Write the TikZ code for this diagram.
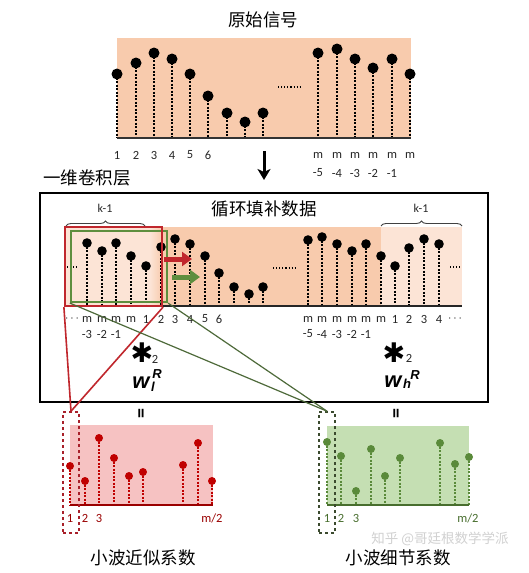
\documentclass[tikz,border=0pt]{standalone}
\usepackage{fontspec}
\setmainfont{Carlito}
\newfontfamily\cjk{Noto Sans CJK SC}
\newfontfamily\djv{DejaVu Sans}
\newfontfamily\arl{Liberation Sans}
\usetikzlibrary{arrows.meta,decorations.pathreplacing,shapes.geometric}
\definecolor{peach}{HTML}{F8CBAD}
\definecolor{peachlight}{HTML}{FCE4D6}
\definecolor{boxred}{HTML}{C0272D}
\definecolor{boxgreen}{HTML}{5E8E3E}
\definecolor{linegreen}{HTML}{4E6A3A}
\definecolor{pinkbg}{HTML}{F6C2C2}
\definecolor{dotred}{HTML}{C00000}
\definecolor{greenbg}{HTML}{C5DFB3}
\definecolor{dotgreen}{HTML}{5A8A3A}
\definecolor{dashgreen}{HTML}{3B4A2E}
\definecolor{dashred}{HTML}{A8202A}
\tikzset{
  stemline/.style={dash pattern=on 2pt off 1.5pt, line width=1.5pt},
  lbl/.style={font=\fontsize{12.5}{13}\selectfont, inner sep=0pt, text=black!85},
  cjkt/.style={font=\cjk\fontsize{17.5}{18}\selectfont, inner sep=0pt},
  axisline/.style={line width=1.6pt},
  wfont/.style={font=\arl\bfseries\itshape\fontsize{22}{22}\selectfont, inner sep=0pt},
  wsub/.style={font=\arl\bfseries\itshape\fontsize{13}{13}\selectfont, inner sep=0pt},
  star/.style={font=\djv\fontsize{27}{27}\selectfont, inner sep=0pt},
  eqsign/.style={font=\bfseries\fontsize{20}{20}\selectfont, inner sep=0pt, rotate=90},
}
\begin{document}
\begin{tikzpicture}[x=1pt,y=-1pt]
\useasboundingbox (0,0) rectangle (529,573);
\fill[white] (0,0) rectangle (529,573);

%% ---------- original signal ----------
\node[cjkt] (t1) at (263,20) {原始信号};
\fill[peach] (117,38) rectangle (411,138);
\foreach \x/\y in {117/74,136/63,154/53,172/59,190/74,208/96,227/113,245/122,263/113,318/53,337/49,355/59,373/68,392/59,410/74}
  {\draw[stemline] (\x,\y) -- (\x,138); \fill (\x,\y) circle[radius=5.5pt];}
\draw[axisline, black!80] (117,138) -- (411,138);
\draw[dotted, line width=1.1pt] (278,87) -- (302,87);
\foreach \x/\t in {117/1,136/2,154/3,172/4,190/5,208/6}
  {\node[lbl] (tl\x) at (\x,155) {\t};}
\foreach \x/\t in {318/-5,337/-4,355/-3,373/-2,392/-1}
  {\node[lbl] (tm\x) at (\x,155) {m}; \node[lbl] (tn\x) at (\x,173) {\t};}
\node[lbl] (tm410) at (410,155) {m};
\draw[-{Stealth[length=11pt,width=13pt,inset=3pt]}, line width=3pt] (264,151) -- (264,180);

%% ---------- conv layer ----------
\node[cjkt, anchor=west] (t2) at (43,178) {一维卷积层};
\node[cjkt] (t3) at (264,209) {循环填补数据};

\fill[peachlight] (65,227) rectangle (150,306);
\shade[left color=peachlight, right color=peach] (150,227) rectangle (162,306);
\fill[peach] (162,227) rectangle (381,306);
\fill[peachlight] (381,227) rectangle (462,306);

\foreach \x/\y in {87/243,102/251,116/243,131/256,146/266,161/247,175/239,190/244,205/256,219/273,234/287,249/294,263/287,308/240,322/237,337/244,352/251,366/244,381/256,395/266,409/248,424/239,439/244}
  {\draw[stemline] (\x,\y) -- (\x,306); \fill (\x,\y) circle[radius=4.8pt];}
\draw[axisline, black!85] (65,306) -- (462,306);
\draw[dotted, line width=1.1pt] (273,268) -- (297,268);
\draw[dotted, line width=1.1pt] (67,267) -- (79,267);
\draw[dotted, line width=1.1pt] (450,267) -- (461,267);

\foreach \x/\t in {87/-3,102/-2,116/-1,308/-5,322/-4,337/-3,352/-2,366/-1}
  {\node[lbl] (mm\x) at (\x,319) {m}; \node[lbl] (mn\x) at (\x,334) {\t};}
\foreach \x/\t in {131/m,146/1,161/2,175/3,190/4,205/5,219/6,381/m,395/1,409/2,424/3,439/4}
  {\node[lbl] (ml\x) at (\x,319) {\t};}
\node[lbl] (ldots) at (72,319) {$\cdots$};
\node[lbl] (rdots) at (455,319) {$\cdots$};

\draw[decorate, decoration={brace, amplitude=5pt}, line width=0.9pt, black!75] (66,226) -- (145,226);
\draw[decorate, decoration={brace, amplitude=5pt}, line width=0.9pt, black!75] (381,226) -- (462,226);
\node[lbl, font=\fontsize{12}{12}\selectfont] (k1) at (105,208) {k-1};
\node[lbl, font=\fontsize{12}{12}\selectfont] (k2) at (421,208) {k-1};

\node[draw=boxgreen, line width=2.2pt, minimum width=96pt, minimum height=71pt, inner sep=0pt] (greenbox) at (119,266.5) {};
\node[draw=boxred, line width=2.2pt, minimum width=97pt, minimum height=79pt, inner sep=0pt] (redbox) at (113.5,266.5) {};

\coordinate (ra1) at (164,259); \coordinate (ra2) at (192,259);
\coordinate (ga1) at (172,277); \coordinate (ga2) at (200,277);
\draw[-{Triangle[length=10pt,width=14pt]}, line width=5pt, boxred] (ra1) -- (ra2);
\draw[-{Triangle[length=10pt,width=14pt]}, line width=5pt, boxgreen] (ga1) -- (ga2);

\node[star] (s1) at (142,353) {✱};
\node[lbl, font=\fontsize{12.5}{13}\selectfont] (s1n) at (155,359) {2};
\node[wfont] (w1) at (141,383) {w};
\node[wsub] (w1s) at (153,387) {l};
\node[wsub] (w1r) at (157,374) {R};

\node[star] (s2) at (394,353) {✱};
\node[lbl, font=\fontsize{12.5}{13}\selectfont] (s2n) at (409,358) {2};
\node[wfont] (w2) at (393,382) {w};
\node[wsub] (w2s) at (407,384) {h};
\node[wsub] (w2r) at (415,375) {R};

\node[draw, line width=2.2pt, minimum width=448pt, minimum height=209pt, inner sep=0pt] (mainbox) at (264,297.5) {};

\node[eqsign] (eq1) at (143,414) {=};
\node[eqsign] (eq2) at (398,414) {=};

%% ---------- approximation coefficients ----------
\fill[pinkbg] (70,425) rectangle (213,505);
\foreach \x/\y in {70/466,85/481,99/438,114/458,129/476,143/472,183/465,198/443,212/481}
  {\draw[stemline, dotred, line width=1.2pt] (\x,\y) -- (\x,505); \fill[dotred] (\x,\y) circle[radius=4pt];}
\draw[axisline, dotred!80!black] (70,505) -- (213,505);
\foreach \x/\t in {70/1,85/2,99/3}
  {\node[lbl, text=dotred!80!black] (al\x) at (\x,518) {\t};}
\node[lbl, text=dotred!80!black] (alm) at (212,518) {m/2};
\node[draw=dashred, dashed, line width=1.6pt, minimum width=16pt, minimum height=121pt, inner sep=0pt] (reddash) at (71,472.5) {};
\node[cjkt] (t4) at (143,558) {小波近似系数};

%% ---------- detail coefficients ----------
\fill[greenbg] (327,426) rectangle (469,505);
\foreach \x/\y in {327/442,341/456,356/491,371/449,385/476,400/458,440/443,455/464,469/457}
  {\draw[stemline, dotgreen, line width=1.2pt] (\x,\y) -- (\x,505); \fill[dotgreen] (\x,\y) circle[radius=4pt];}
\draw[axisline, dotgreen!80!black] (327,505) -- (469,505);
\foreach \x/\t in {327/1,341/2,356/3}
  {\node[lbl, text=dotgreen!80!black] (dl\x) at (\x,518) {\t};}
\node[lbl, text=dotgreen!80!black] (dlm) at (468,518) {m/2};
\node[draw=dashgreen, dashed, line width=1.6pt, minimum width=16pt, minimum height=121pt, inner sep=0pt] (greendash) at (327,472.5) {};
\node[cjkt] (t5) at (398,558) {小波细节系数};
\node[font=\cjk\fontsize{13.5}{14}\selectfont, text=black!18, inner sep=0pt] (wm) at (440,539) {知乎 @哥廷根数学学派};

%% ---------- connectors ----------
\draw[boxred, line width=1.6pt] (redbox.south west) -- (reddash.north);
\draw[boxred, line width=1.6pt] (redbox.south east) -- (reddash.north);
\draw[linegreen, line width=1.2pt] (greenbox.south west) -- (greendash.north);
\draw[linegreen, line width=1.2pt] (greenbox.south east) -- (greendash.north);
\end{tikzpicture}
\end{document}
